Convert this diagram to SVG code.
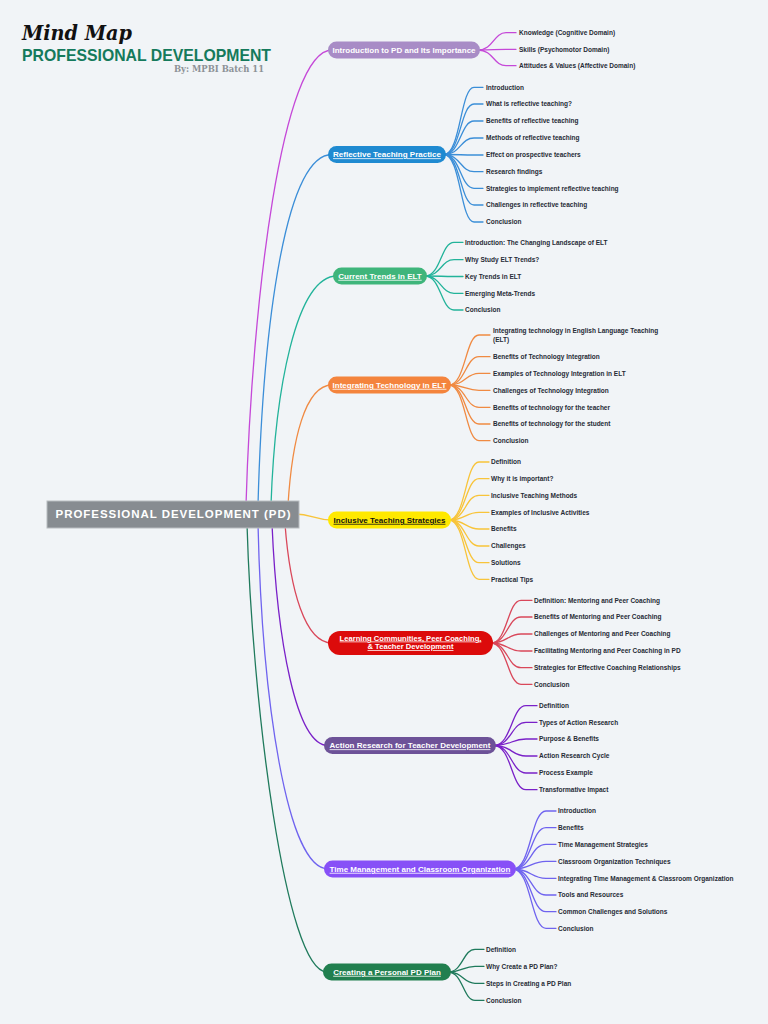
<svg xmlns="http://www.w3.org/2000/svg" width="768" height="1024" viewBox="0 0 768 1024">
<style>
.lf{font-family:"Liberation Sans",Arial,sans-serif;font-weight:bold;font-size:6.5px;fill:#262b35}
.bt{font-family:"Liberation Sans",Arial,sans-serif;font-weight:bold;font-size:8px;fill:#ffffff;text-anchor:middle}
.u{text-decoration:underline}
.c path{fill:none;stroke-width:1.3;stroke-linecap:round}
</style>
<rect width="768" height="1024" fill="#f1f4f7"/>
<g id="title">
<text x="22" y="40" font-family="DejaVu Serif,serif" font-style="italic" font-weight="bold" font-size="20" fill="#111" textLength="110" lengthAdjust="spacingAndGlyphs">Mind Map</text>
<text x="22" y="60.5" font-family="Liberation Sans,Arial,sans-serif" font-weight="bold" font-size="15.7" fill="#157a5c" textLength="249" lengthAdjust="spacingAndGlyphs">PROFESSIONAL DEVELOPMENT</text>
<text x="174" y="72" font-family="DejaVu Serif,serif" font-weight="bold" font-size="9" fill="#8c9196" textLength="90" lengthAdjust="spacingAndGlyphs">By: MPBI Batch 11</text>
</g>
<g id="connectors" class="c">
<path stroke="#c548d8" d="M246,505 C252,300 282,50 332,50"/>
<path stroke="#3b8ed8" d="M258,505 C263,320 286,154.5 332,154.5"/>
<path stroke="#22b39a" d="M271,505 C275,390 296,276 337,276"/>
<path stroke="#f08a42" d="M288,505 C292,440 305,385 332,385"/>
<path stroke="#f8c43a" d="M295,514 C312,514 314,520 332,520"/>
<path stroke="#d9475a" d="M285,524 C290,590 305,643 332,643"/>
<path stroke="#7a20c8" d="M272,524 C277,640 296,745.5 328,745.5"/>
<path stroke="#6f63ef" d="M258,524 C262,700 287,869 328,869"/>
<path stroke="#1f7a5c" d="M247,524 C252,700 285,972 327,972"/>
<g stroke="#c548d8">
<path d="M478,50 C493.5,50 493.5,32.7 506,32.7 L516,32.7"/>
<path d="M478,50 C493.5,50 493.5,49.3 506,49.3 L516,49.3"/>
<path d="M478,50 C493.5,50 493.5,65.7 506,65.7 L516,65.7"/>
</g>
<g stroke="#3b8ed8">
<path d="M444,154.5 C460.5,154.5 460.5,87.3 474,87.3 L483,87.3"/>
<path d="M444,154.5 C460.5,154.5 460.5,104 474,104 L483,104"/>
<path d="M444,154.5 C460.5,154.5 460.5,121 474,121 L483,121"/>
<path d="M444,154.5 C460.5,154.5 460.5,138 474,138 L483,138"/>
<path d="M444,154.5 C460.5,154.5 460.5,155 474,155 L483,155"/>
<path d="M444,154.5 C460.5,154.5 460.5,171.7 474,171.7 L483,171.7"/>
<path d="M444,154.5 C460.5,154.5 460.5,188.3 474,188.3 L483,188.3"/>
<path d="M444,154.5 C460.5,154.5 460.5,205 474,205 L483,205"/>
<path d="M444,154.5 C460.5,154.5 460.5,222 474,222 L483,222"/>
</g>
<g stroke="#22b39a">
<path d="M425,276 C441,276 441,242.3 454,242.3 L463,242.3"/>
<path d="M425,276 C441,276 441,259.7 454,259.7 L463,259.7"/>
<path d="M425,276 C441,276 441,276.5 454,276.5 L463,276.5"/>
<path d="M425,276 C441,276 441,293.3 454,293.3 L463,293.3"/>
<path d="M425,276 C441,276 441,310 454,310 L463,310"/>
</g>
<g stroke="#f08a42">
<path d="M449,385 C465.5,385 465.5,335 479,335 L490,335"/>
<path d="M449,385 C465.5,385 465.5,356.7 479,356.7 L490,356.7"/>
<path d="M449,385 C465.5,385 465.5,373.3 479,373.3 L490,373.3"/>
<path d="M449,385 C465.5,385 465.5,390.3 479,390.3 L490,390.3"/>
<path d="M449,385 C465.5,385 465.5,407.3 479,407.3 L490,407.3"/>
<path d="M449,385 C465.5,385 465.5,424 479,424 L490,424"/>
<path d="M449,385 C465.5,385 465.5,440.7 479,440.7 L490,440.7"/>
</g>
<g stroke="#f8c43a">
<path d="M449,520 C465.5,520 465.5,462 479,462 L489,462"/>
<path d="M449,520 C465.5,520 465.5,478.7 479,478.7 L489,478.7"/>
<path d="M449,520 C465.5,520 465.5,495.3 479,495.3 L489,495.3"/>
<path d="M449,520 C465.5,520 465.5,512.3 479,512.3 L489,512.3"/>
<path d="M449,520 C465.5,520 465.5,529 479,529 L489,529"/>
<path d="M449,520 C465.5,520 465.5,546 479,546 L489,546"/>
<path d="M449,520 C465.5,520 465.5,562.7 479,562.7 L489,562.7"/>
<path d="M449,520 C465.5,520 465.5,579.3 479,579.3 L489,579.3"/>
</g>
<g stroke="#d9475a">
<path d="M491,643 C507.5,643 507.5,600.3 521,600.3 L532,600.3"/>
<path d="M491,643 C507.5,643 507.5,617 521,617 L532,617"/>
<path d="M491,643 C507.5,643 507.5,634 521,634 L532,634"/>
<path d="M491,643 C507.5,643 507.5,651 521,651 L532,651"/>
<path d="M491,643 C507.5,643 507.5,667.7 521,667.7 L532,667.7"/>
<path d="M491,643 C507.5,643 507.5,684.3 521,684.3 L532,684.3"/>
</g>
<g stroke="#7a20c8">
<path d="M494,745.5 C511.5,745.5 511.5,705.7 526,705.7 L537,705.7"/>
<path d="M494,745.5 C511.5,745.5 511.5,722.3 526,722.3 L537,722.3"/>
<path d="M494,745.5 C511.5,745.5 511.5,739 526,739 L537,739"/>
<path d="M494,745.5 C511.5,745.5 511.5,756 526,756 L537,756"/>
<path d="M494,745.5 C511.5,745.5 511.5,773 526,773 L537,773"/>
<path d="M494,745.5 C511.5,745.5 511.5,789.7 526,789.7 L537,789.7"/>
</g>
<g stroke="#6f63ef">
<path d="M513,869 C531,869 531,811 546,811 L556,811"/>
<path d="M513,869 C531,869 531,827.7 546,827.7 L556,827.7"/>
<path d="M513,869 C531,869 531,844.3 546,844.3 L556,844.3"/>
<path d="M513,869 C531,869 531,861.3 546,861.3 L556,861.3"/>
<path d="M513,869 C531,869 531,878.3 546,878.3 L556,878.3"/>
<path d="M513,869 C531,869 531,895 546,895 L556,895"/>
<path d="M513,869 C531,869 531,911.7 546,911.7 L556,911.7"/>
<path d="M513,869 C531,869 531,928.3 546,928.3 L556,928.3"/>
</g>
<g stroke="#1f7a5c">
<path d="M448,972 C463,972 463,949.3 475,949.3 L484,949.3"/>
<path d="M448,972 C463,972 463,966.3 475,966.3 L484,966.3"/>
<path d="M448,972 C463,972 463,983.3 475,983.3 L484,983.3"/>
<path d="M448,972 C463,972 463,1000.3 475,1000.3 L484,1000.3"/>
</g>
</g>
<g id="center">
<rect x="47" y="501" width="252" height="27" fill="#878c91" stroke="#b8bcc0" stroke-width="1"/>
<text x="173" y="518" font-family="Liberation Sans,Arial,sans-serif" font-weight="bold" font-size="11.5" fill="#ffffff" text-anchor="middle" textLength="235" lengthAdjust="spacing">PROFESSIONAL DEVELOPMENT (PD)</text>
</g>
<g id="b1">
<rect x="328" y="41.5" width="152" height="17" rx="8.5" fill="#a88cc6"/>
<text class="bt" x="404" y="52.8">Introduction to PD and Its Importance</text>
<text class="lf" x="519" y="35">Knowledge (Cognitive Domain)</text>
<text class="lf" x="519" y="51.6">Skills (Psychomotor Domain)</text>
<text class="lf" x="519" y="68">Attitudes &amp; Values (Affective Domain)</text>
</g>
<g id="b2">
<rect x="328" y="146" width="118" height="17" rx="8.5" fill="#1f8ad1"/>
<text class="bt u" x="387" y="157.3">Reflective Teaching Practice</text>
<text class="lf" x="486" y="89.6">Introduction</text>
<text class="lf" x="486" y="106.3">What is reflective teaching?</text>
<text class="lf" x="486" y="123.3">Benefits of reflective teaching</text>
<text class="lf" x="486" y="140.3">Methods of reflective teaching</text>
<text class="lf" x="486" y="157.3">Effect on prospective teachers</text>
<text class="lf" x="486" y="174">Research findings</text>
<text class="lf" x="486" y="190.6">Strategies to implement reflective teaching</text>
<text class="lf" x="486" y="207.3">Challenges in reflective teaching</text>
<text class="lf" x="486" y="224.3">Conclusion</text>
</g>
<g id="b3">
<rect x="333" y="267.5" width="94" height="17" rx="8.5" fill="#3fb57b"/>
<text class="bt u" x="380" y="278.8">Current Trends in ELT</text>
<text class="lf" x="465" y="244.6">Introduction: The Changing Landscape of ELT</text>
<text class="lf" x="465" y="262">Why Study ELT Trends?</text>
<text class="lf" x="465" y="278.8">Key Trends in ELT</text>
<text class="lf" x="465" y="295.6">Emerging Meta-Trends</text>
<text class="lf" x="465" y="312.3">Conclusion</text>
</g>
<g id="b4">
<rect x="328" y="376.5" width="123" height="17" rx="8.5" fill="#f4843d"/>
<text class="bt u" x="389.5" y="387.8">Integrating Technology in ELT</text>
<text class="lf" x="493" y="333.3">Integrating technology in English Language Teaching</text>
<text class="lf" x="493" y="342.3">(ELT)</text>
<text class="lf" x="493" y="359">Benefits of Technology Integration</text>
<text class="lf" x="493" y="375.6">Examples of Technology Integration in ELT</text>
<text class="lf" x="493" y="392.6">Challenges of Technology Integration</text>
<text class="lf" x="493" y="409.6">Benefits of technology for the teacher</text>
<text class="lf" x="493" y="426.3">Benefits of technology for the student</text>
<text class="lf" x="493" y="443">Conclusion</text>
</g>
<g id="b5">
<rect x="328" y="511.5" width="123" height="17" rx="8.5" fill="#ffe900"/>
<text class="bt u" x="389.5" y="522.8" style="fill:#111111">Inclusive Teaching Strategies</text>
<text class="lf" x="491" y="464.3">Definition</text>
<text class="lf" x="491" y="481">Why it is important?</text>
<text class="lf" x="491" y="497.6">Inclusive Teaching Methods</text>
<text class="lf" x="491" y="514.6">Examples of Inclusive Activities</text>
<text class="lf" x="491" y="531.3">Benefits</text>
<text class="lf" x="491" y="548.3">Challenges</text>
<text class="lf" x="491" y="565">Solutions</text>
<text class="lf" x="491" y="581.6">Practical Tips</text>
</g>
<g id="b6">
<rect x="328" y="631" width="165" height="24" rx="12" fill="#dc0b0b"/>
<text class="bt u" x="410.5" y="640.5" style="font-size:7.6px">Learning Communities, Peer Coaching,</text>
<text class="bt u" x="410.5" y="649" style="font-size:7.6px">&amp; Teacher Development</text>
<text class="lf" x="534" y="602.6">Definition: Mentoring and Peer Coaching</text>
<text class="lf" x="534" y="619.3">Benefits of Mentoring and Peer Coaching</text>
<text class="lf" x="534" y="636.3">Challenges of Mentoring and Peer Coaching</text>
<text class="lf" x="534" y="653.3">Facilitating Mentoring and Peer Coaching in PD</text>
<text class="lf" x="534" y="670">Strategies for Effective Coaching Relationships</text>
<text class="lf" x="534" y="686.6">Conclusion</text>
</g>
<g id="b7">
<rect x="324" y="737" width="172" height="17" rx="8.5" fill="#6d5298"/>
<text class="bt u" x="410" y="748.3">Action Research for Teacher Development</text>
<text class="lf" x="539" y="708">Definition</text>
<text class="lf" x="539" y="724.6">Types of Action Research</text>
<text class="lf" x="539" y="741.3">Purpose &amp; Benefits</text>
<text class="lf" x="539" y="758.3">Action Research Cycle</text>
<text class="lf" x="539" y="775.3">Process Example</text>
<text class="lf" x="539" y="792">Transformative Impact</text>
</g>
<g id="b8">
<rect x="324" y="860.5" width="192" height="17" rx="8.5" fill="#8750f7"/>
<text class="bt u" x="420" y="871.8">Time Management and Classroom Organization</text>
<text class="lf" x="558" y="813.3">Introduction</text>
<text class="lf" x="558" y="830">Benefits</text>
<text class="lf" x="558" y="846.6">Time Management Strategies</text>
<text class="lf" x="558" y="863.6">Classroom Organization Techniques</text>
<text class="lf" x="558" y="880.6">Integrating Time Management &amp; Classroom Organization</text>
<text class="lf" x="558" y="897.3">Tools and Resources</text>
<text class="lf" x="558" y="914">Common Challenges and Solutions</text>
<text class="lf" x="558" y="930.6">Conclusion</text>
</g>
<g id="b9">
<rect x="323" y="963.5" width="128" height="17" rx="8.5" fill="#217f4f"/>
<text class="bt u" x="387" y="974.8">Creating a Personal PD Plan</text>
<text class="lf" x="486" y="951.6">Definition</text>
<text class="lf" x="486" y="968.6">Why Create a PD Plan?</text>
<text class="lf" x="486" y="985.6">Steps in Creating a PD Plan</text>
<text class="lf" x="486" y="1002.6">Conclusion</text>
</g>
</svg>
